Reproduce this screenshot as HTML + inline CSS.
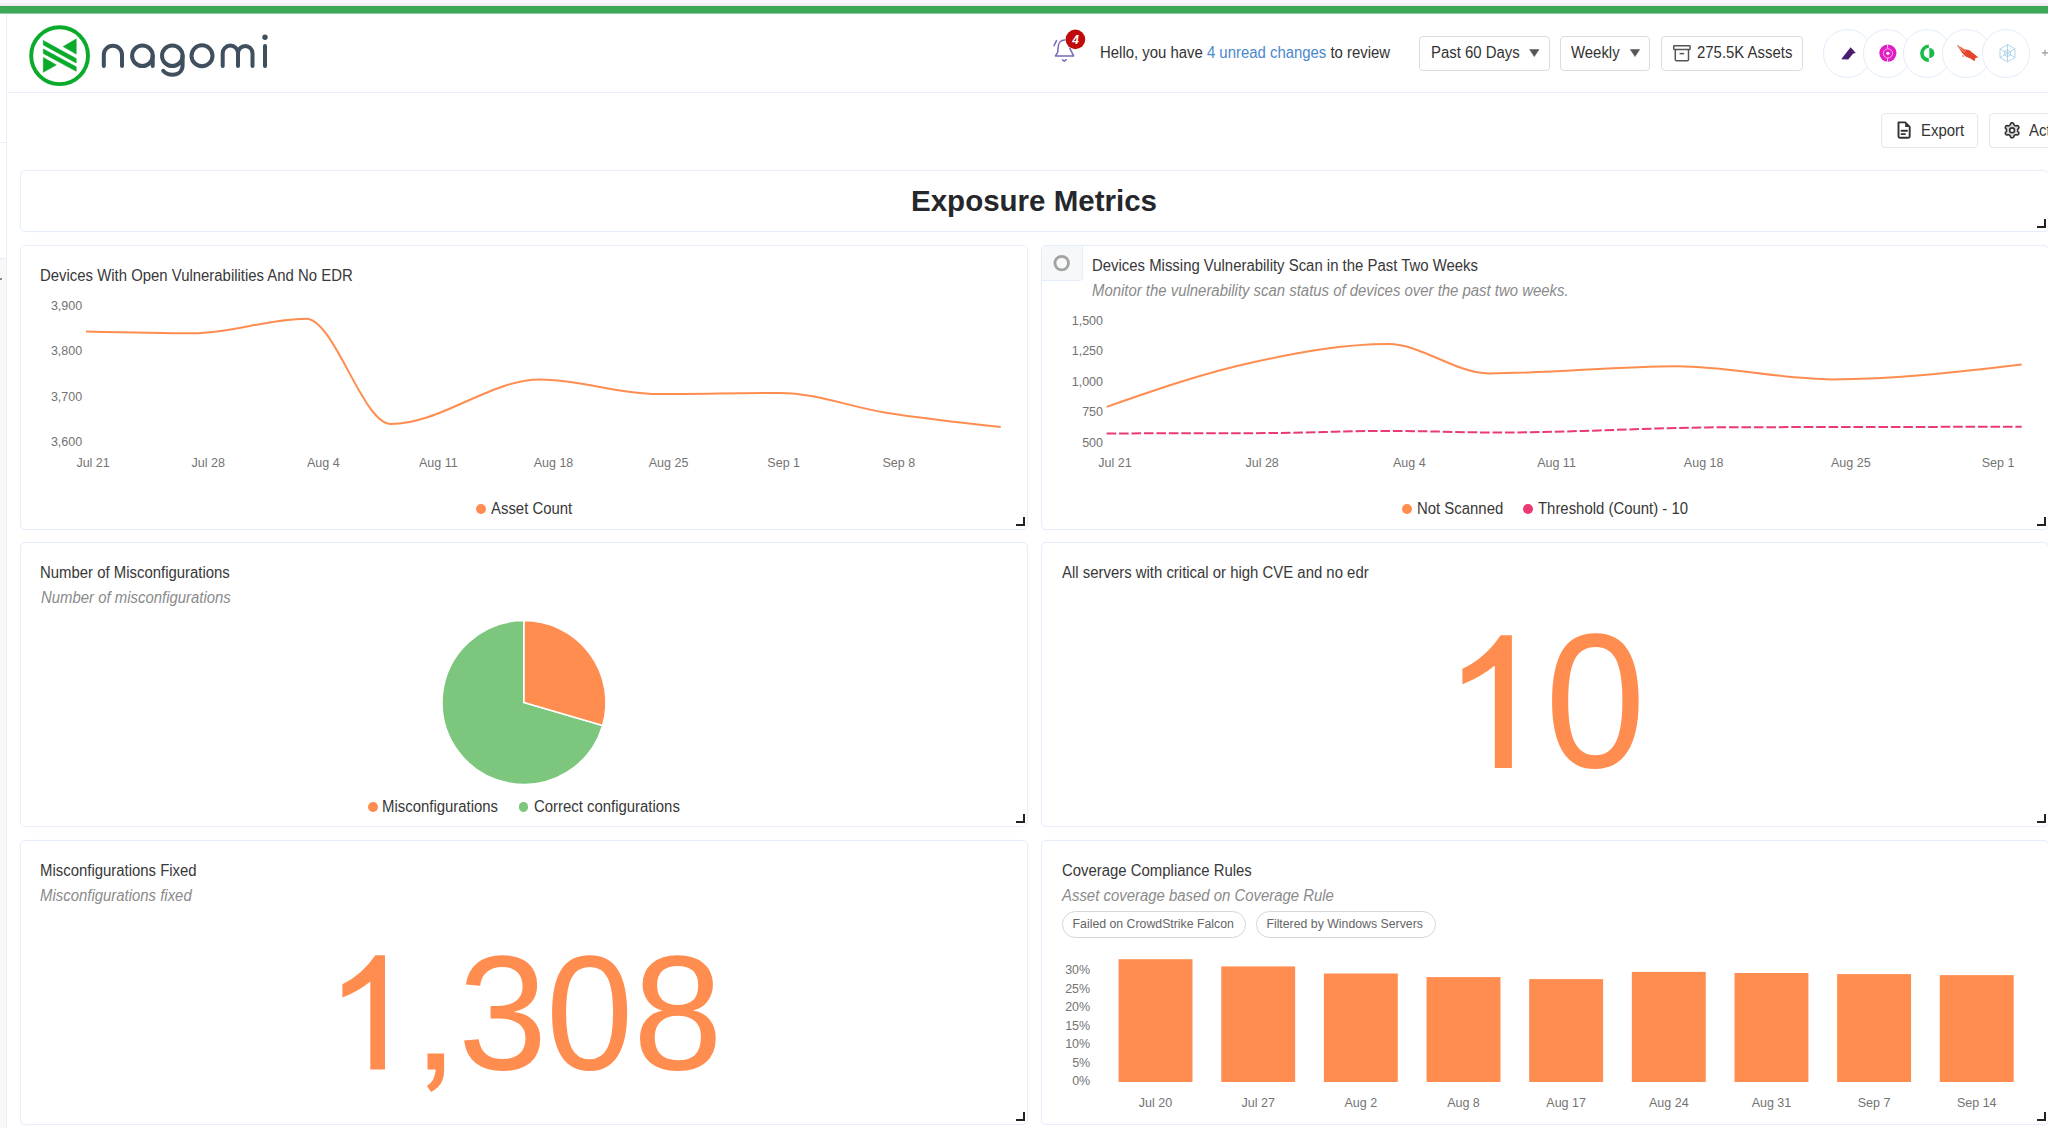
<!DOCTYPE html>
<html><head><meta charset="utf-8"><title>Exposure Metrics</title>
<style>
*{box-sizing:border-box;margin:0;padding:0}
html,body{width:2048px;height:1128px;overflow:hidden;background:#fff;font-family:"Liberation Sans",sans-serif}
.t{position:absolute;white-space:nowrap;line-height:1;font-family:"Liberation Sans",sans-serif}
.abs{position:absolute}
.card{position:absolute;background:#fff;border:1px solid #e6eefc;border-radius:5px;box-shadow:0 0 2px rgba(0,0,0,0.03)}
.btn{position:absolute;border:1px solid #dcdcdc;border-radius:4px;background:#fff}
.rh{position:absolute;width:9px;height:9px;border-right:2px solid #222;border-bottom:2px solid #222}
.dot{position:absolute;width:9.8px;height:9.8px;border-radius:50%;margin:0.4px}
</style></head><body>

<div class="abs" style="left:0;top:0;width:2048px;height:3px;background:#fdf6fd"></div>
<div class="abs" style="left:0;top:3px;width:2048px;height:3px;background:#f4eaf3"></div>
<div class="abs" style="left:0;top:6px;width:2048px;height:1px;background:#37a350"></div>
<div class="abs" style="left:0;top:7px;width:2048px;height:6px;background:#3ea85a"></div>
<div class="abs" style="left:0;top:13px;width:2048px;height:1px;background:#8fcb9e"></div>
<div class="abs" style="left:6px;top:14px;width:1px;height:1114px;background:#e8effb"></div>
<div class="abs" style="left:7px;top:92px;width:2041px;height:1px;background:#e8effb"></div>
<div class="abs" style="left:0;top:142px;width:6px;height:1px;background:#e8effb"></div>
<div class="abs" style="left:0;top:258px;width:6px;height:1px;background:#e8effb"></div>
<div class="abs" style="left:0;top:259px;width:6px;height:869px;background:#f8f8f8"></div>
<div class="abs" style="left:0;top:278px;width:1.5px;height:2px;background:#888"></div>
<svg class="abs" style="left:0;top:0" width="300" height="92" viewBox="0 0 300 92">
<circle cx="59.6" cy="55.7" r="28.4" fill="none" stroke="#0aab2b" stroke-width="3.9"/>
<path d="M76.2,39.0 L63.2,46.6 L76.2,54.1 Z" fill="#0aab2b" stroke="#0aab2b" stroke-width="0.6" stroke-linejoin="round"/>
<path d="M43.3,57.5 L56.3,64.9 L43.3,72.2 Z" fill="#0aab2b" stroke="#0aab2b" stroke-width="0.6" stroke-linejoin="round"/>
<path d="M43.3,40.5 L76.2,58.6 L76.2,63.0 L43.3,44.9 Z" fill="#0aab2b" stroke="#0aab2b" stroke-width="0.6" stroke-linejoin="round"/>
<path d="M43.3,49.0 L76.2,66.8 L76.2,71.2 L43.3,53.4 Z" fill="#0aab2b" stroke="#0aab2b" stroke-width="0.6" stroke-linejoin="round"/>
<g fill="none" stroke="#3f4f5d" stroke-width="4" stroke-linecap="round">
<path d="M103.8,66 V54.8 A9.1,9.1 0 0 1 122,54.8 V66"/>
<circle cx="142.4" cy="55.75" r="10.3"/><path d="M152.7,55.75 V66"/>
<circle cx="172.3" cy="55.75" r="10.3"/><path d="M182.6,55.75 V65 C182.6,71.5 178,74.8 172.5,74.8 C168.5,74.8 165.2,73.2 163.2,70.8"/>
<circle cx="202" cy="55.75" r="10.5"/>
<path d="M222.7,66 V53.2 A7.65,7.65 0 0 1 238,53.2 V66 M238,53.2 A7.25,7.25 0 0 1 252.5,53.2 V66"/>
<path d="M265,46 V66"/>
</g>
<circle cx="265" cy="37.3" r="2.7" fill="#3f4f5d"/>
</svg>
<svg class="abs" style="left:1045px;top:25px" width="50" height="45" viewBox="1045 25 50 45">
<g fill="none" stroke="#7668b8" stroke-width="1.5" stroke-linecap="round" stroke-linejoin="round">
<path d="M1064.8,40 C1060.5,40 1058.3,43.5 1058.2,47 L1057.6,52.6 L1055.4,55.9 L1073.6,55.9 L1069.8,48.4"/>
<path d="M1062.5,59.7 L1064.2,61.2 L1066.2,59.7"/>
<path d="M1056.5,40.6 L1054,45.8"/>
</g>
<circle cx="1075.4" cy="39.4" r="9.8" fill="#c10a0a"/>
<text x="1075.6" y="43.6" text-anchor="middle" font-family="Liberation Sans" font-weight="700" font-style="italic" font-size="12" fill="#fff">4</text>
</svg>
<div class="t" style="left:1100.20px;top:45.00px;font-size:16px;color:#333;transform:scaleX(0.932);transform-origin:0 0;">Hello, you have <span style="color:#4a88cc">4 unread changes</span> to review</div>

<div class="btn" style="left:1419px;top:36px;width:131px;height:35px"></div>
<div class="btn" style="left:1560px;top:36px;width:90px;height:35px"></div>
<div class="btn" style="left:1661px;top:36px;width:142px;height:35px"></div>
<div class="t" style="left:1431.00px;top:45.00px;font-size:16px;color:#333;transform:scaleX(0.932);transform-origin:0 0;">Past 60 Days</div>

<div class="t" style="left:1571.40px;top:45.00px;font-size:16px;color:#333;transform:scaleX(0.932);transform-origin:0 0;">Weekly</div>

<div class="t" style="left:1697.00px;top:45.00px;font-size:16px;color:#333;transform:scaleX(0.932);transform-origin:0 0;">275.5K Assets</div>

<svg class="abs" style="left:1520px;top:40px" width="180" height="30" viewBox="1520 40 180 30">
<path d="M1529.6,49.5 L1539,49.5 L1534.3,56.6 Z" fill="#555" stroke="#555" stroke-width="0.5" stroke-linejoin="round"/>
<path d="M1630.3,49.5 L1639.7,49.5 L1635,56.6 Z" fill="#555" stroke="#555" stroke-width="0.5" stroke-linejoin="round"/>
<g fill="none" stroke="#555" stroke-width="1.5" stroke-linejoin="round">
<rect x="1673.7" y="45.8" width="16.4" height="3.6" rx="0.6"/>
<path d="M1675.3,49.4 V59.4 Q1675.3,60.7 1676.6,60.7 H1687.2 Q1688.5,60.7 1688.5,59.4 V49.4"/>
<path d="M1679.6,53.6 H1684.2"/>
</g></svg>
<div class="abs" style="left:1823.3px;top:29.2px;width:48.4px;height:48.4px;border-radius:50%;border:1.3px solid #e2ecfb;background:#fff"></div>
<div class="abs" style="left:1863.0px;top:29.2px;width:48.4px;height:48.4px;border-radius:50%;border:1.3px solid #e2ecfb;background:#fff"></div>
<div class="abs" style="left:1902.7px;top:29.2px;width:48.4px;height:48.4px;border-radius:50%;border:1.3px solid #e2ecfb;background:#fff"></div>
<div class="abs" style="left:1942.4px;top:29.2px;width:48.4px;height:48.4px;border-radius:50%;border:1.3px solid #e2ecfb;background:#fff"></div>
<div class="abs" style="left:1982.1px;top:29.2px;width:48.4px;height:48.4px;border-radius:50%;border:1.3px solid #e2ecfb;background:#fff"></div>
<svg class="abs" style="left:1820px;top:28px" width="228" height="52" viewBox="1820 28 228 52">
<path d="M1841.2,59.2 L1850.6,47.2 L1855.8,52.9 L1853.2,53.4 L1848.2,59.4 Z" fill="#4a1c6f"/>
<circle cx="1887.9" cy="53.1" r="8.6" fill="#e11ec2"/>
<circle cx="1887.9" cy="53.4" r="4.6" fill="none" stroke="#f7b9ec" stroke-width="0.9"/>
<circle cx="1887.9" cy="53.3" r="1.6" fill="#fff"/>
<path d="M1887.6,44.5 V48 M1887.6,58.5 V62" stroke="#fff" stroke-width="0.8"/>
<path d="M1928.8,44.6 A8.7,8.7 0 0 0 1928.8,62 L1928.8,58.3 A5.1,5.1 0 0 1 1928.8,48.1 Z" fill="#17bb46"/>
<path d="M1929.3,48.1 A5.1,5.1 0 0 1 1929.3,58.3 Z" fill="#17bb46"/>
<path d="M1956.8,44.8 L1964,49 L1969.5,50.3 L1973.5,53.5 L1978.5,57.6 L1975.6,57.8 L1974.5,61.3 L1970.5,58.5 L1966,56.8 L1962.5,53.5 Z" fill="#e5452e"/>
<path d="M1957,45 L1966,50.5 M1959,47.5 L1965,52.5" stroke="#f7a08a" stroke-width="1"/>
<circle cx="1963" cy="56" r="0.9" fill="#f08a70"/>
<g fill="none" stroke="#9dcbe6" stroke-width="0.8">
<path d="M2007.5,44.6 L2015,48.9 L2015,57.5 L2007.5,61.8 L2000,57.5 L2000,48.9 Z"/>
<path d="M2007.5,44.6 V61.8 M2000,48.9 L2015,57.5 M2015,48.9 L2000,57.5"/>
<circle cx="2007.5" cy="53.2" r="3.2"/>
</g>
<path d="M2042,52.8 H2048 M2045,49.8 V55.8" stroke="#999" stroke-width="1.2"/>
</svg>
<div class="btn" style="left:1881px;top:113px;width:97px;height:35px;border-color:#e8e8e8"></div>
<div class="btn" style="left:1989px;top:113px;width:80px;height:35px;border-color:#e8e8e8"></div>
<div class="t" style="left:1921.40px;top:123.00px;font-size:16px;color:#333;transform:scaleX(0.932);transform-origin:0 0;">Export</div>

<div class="t" style="left:2029.30px;top:123.00px;font-size:16px;color:#333;transform:scaleX(0.932);transform-origin:0 0;">Actions</div>

<svg class="abs" style="left:1890px;top:115px" width="140" height="30" viewBox="1890 115 140 30">
<g fill="none" stroke="#333" stroke-width="1.9" stroke-linejoin="round" stroke-linecap="round">
<path d="M1898.5,122.4 H1905.2 L1909.7,126.9 V136.6 Q1909.7,137.8 1908.5,137.8 H1899.7 Q1898.5,137.8 1898.5,136.6 Z"/>
<path d="M1901.5,130.8 H1907 M1901.5,134.1 H1905"/>
</g>
<path d="M1905.2,122.4 L1909.7,126.9 L1905.2,126.9 Z" fill="#333"/>
<path d="M2017.60,130.30 L2017.61,130.49 L2017.64,130.69 L2017.69,130.89 L2017.76,131.10 L2017.85,131.31 L2017.97,131.55 L2018.16,131.81 L2018.60,132.16 L2018.75,132.46 L2018.83,132.75 L2018.86,133.03 L2018.84,133.30 L2018.79,133.56 L2018.71,133.81 L2018.60,134.05 L2018.45,134.27 L2018.27,134.46 L2018.07,134.64 L2017.84,134.79 L2017.58,134.90 L2017.30,134.98 L2016.96,134.99 L2016.44,134.79 L2016.12,134.76 L2015.85,134.77 L2015.62,134.80 L2015.40,134.85 L2015.21,134.90 L2015.02,134.98 L2014.85,135.06 L2014.69,135.17 L2014.53,135.29 L2014.39,135.43 L2014.24,135.60 L2014.10,135.79 L2013.96,136.01 L2013.82,136.30 L2013.73,136.86 L2013.55,137.14 L2013.34,137.35 L2013.11,137.51 L2012.87,137.64 L2012.62,137.73 L2012.36,137.78 L2012.10,137.80 L2011.84,137.78 L2011.58,137.73 L2011.33,137.64 L2011.09,137.51 L2010.86,137.35 L2010.65,137.14 L2010.47,136.86 L2010.38,136.30 L2010.24,136.01 L2010.10,135.79 L2009.96,135.60 L2009.81,135.43 L2009.67,135.29 L2009.51,135.17 L2009.35,135.06 L2009.18,134.98 L2008.99,134.90 L2008.80,134.85 L2008.58,134.80 L2008.35,134.77 L2008.08,134.76 L2007.76,134.79 L2007.24,134.99 L2006.90,134.98 L2006.62,134.90 L2006.36,134.79 L2006.13,134.64 L2005.93,134.46 L2005.75,134.27 L2005.60,134.05 L2005.49,133.81 L2005.41,133.56 L2005.36,133.30 L2005.34,133.03 L2005.37,132.75 L2005.45,132.46 L2005.60,132.16 L2006.04,131.81 L2006.23,131.55 L2006.35,131.31 L2006.44,131.10 L2006.51,130.89 L2006.56,130.69 L2006.59,130.49 L2006.60,130.30 L2006.59,130.11 L2006.56,129.91 L2006.51,129.71 L2006.44,129.50 L2006.35,129.29 L2006.23,129.05 L2006.04,128.79 L2005.60,128.44 L2005.45,128.14 L2005.37,127.85 L2005.34,127.57 L2005.36,127.30 L2005.41,127.04 L2005.49,126.79 L2005.60,126.55 L2005.75,126.33 L2005.93,126.14 L2006.13,125.96 L2006.36,125.81 L2006.62,125.70 L2006.90,125.62 L2007.24,125.61 L2007.76,125.81 L2008.08,125.84 L2008.35,125.83 L2008.58,125.80 L2008.80,125.75 L2008.99,125.70 L2009.18,125.62 L2009.35,125.54 L2009.51,125.43 L2009.67,125.31 L2009.81,125.17 L2009.96,125.00 L2010.10,124.81 L2010.24,124.59 L2010.38,124.30 L2010.47,123.74 L2010.65,123.46 L2010.86,123.25 L2011.09,123.09 L2011.33,122.96 L2011.58,122.87 L2011.84,122.82 L2012.10,122.80 L2012.36,122.82 L2012.62,122.87 L2012.87,122.96 L2013.11,123.09 L2013.34,123.25 L2013.55,123.46 L2013.73,123.74 L2013.82,124.30 L2013.96,124.59 L2014.10,124.81 L2014.24,125.00 L2014.39,125.17 L2014.53,125.31 L2014.69,125.43 L2014.85,125.54 L2015.02,125.62 L2015.21,125.70 L2015.40,125.75 L2015.62,125.80 L2015.85,125.83 L2016.12,125.84 L2016.44,125.81 L2016.96,125.61 L2017.30,125.62 L2017.58,125.70 L2017.84,125.81 L2018.07,125.96 L2018.27,126.14 L2018.45,126.33 L2018.60,126.55 L2018.71,126.79 L2018.79,127.04 L2018.84,127.30 L2018.86,127.57 L2018.83,127.85 L2018.75,128.14 L2018.60,128.44 L2018.16,128.79 L2017.97,129.05 L2017.85,129.29 L2017.76,129.50 L2017.69,129.71 L2017.64,129.91 L2017.61,130.11 Z" fill="#d6d6d6" stroke="#333" stroke-width="1.6" stroke-linejoin="round"/>
<circle cx="2012.1" cy="130.3" r="2.4" fill="#fff" stroke="#333" stroke-width="1.6"/>
</svg>
<div class="card" style="left:20px;top:170px;width:2029px;height:62px"></div>

<div class="t" style="left:0;width:2068px;text-align:center;top:186.13px;font-size:29.5px;font-weight:700;color:#25272b">Exposure Metrics</div>
<div class="rh" style="left:2036.8px;top:219.0px"></div>

<div class="card" style="left:20px;top:245px;width:1008px;height:285px"></div>

<div class="card" style="left:1041px;top:245px;width:1008px;height:285px"></div>

<div class="rh" style="left:1015.8px;top:517.2px"></div>

<div class="rh" style="left:2036.6px;top:517.2px"></div>

<div class="card" style="left:20px;top:542px;width:1008px;height:285px"></div>

<div class="card" style="left:1041px;top:542px;width:1008px;height:285px"></div>

<div class="rh" style="left:1015.8px;top:814.2px"></div>

<div class="rh" style="left:2036.6px;top:814.2px"></div>

<div class="card" style="left:20px;top:840px;width:1008px;height:285px"></div>

<div class="card" style="left:1041px;top:840px;width:1008px;height:285px"></div>

<div class="rh" style="left:1015.8px;top:1112.2px"></div>

<div class="rh" style="left:2036.6px;top:1112.2px"></div>

<div class="t" style="left:40.20px;top:268.00px;font-size:16px;color:#383838;transform:scaleX(0.932);transform-origin:0 0;">Devices With Open Vulnerabilities And No EDR</div>

<div class="t" style="right:1965.80px;top:299.92px;font-size:12.5px;color:#737373;">3,900</div>

<div class="t" style="right:1965.80px;top:345.32px;font-size:12.5px;color:#737373;">3,800</div>

<div class="t" style="right:1965.80px;top:390.72px;font-size:12.5px;color:#737373;">3,700</div>

<div class="t" style="right:1965.80px;top:436.12px;font-size:12.5px;color:#737373;">3,600</div>

<div class="t" style="left:-6.90px;width:200px;text-align:center;top:456.92px;font-size:12.5px;color:#737373;">Jul 21</div>

<div class="t" style="left:108.20px;width:200px;text-align:center;top:456.92px;font-size:12.5px;color:#737373;">Jul 28</div>

<div class="t" style="left:223.30px;width:200px;text-align:center;top:456.92px;font-size:12.5px;color:#737373;">Aug 4</div>

<div class="t" style="left:338.40px;width:200px;text-align:center;top:456.92px;font-size:12.5px;color:#737373;">Aug 11</div>

<div class="t" style="left:453.50px;width:200px;text-align:center;top:456.92px;font-size:12.5px;color:#737373;">Aug 18</div>

<div class="t" style="left:568.60px;width:200px;text-align:center;top:456.92px;font-size:12.5px;color:#737373;">Aug 25</div>

<div class="t" style="left:683.70px;width:200px;text-align:center;top:456.92px;font-size:12.5px;color:#737373;">Sep 1</div>

<div class="t" style="left:798.80px;width:200px;text-align:center;top:456.92px;font-size:12.5px;color:#737373;">Sep 8</div>

<svg class="abs" style="left:0;top:0" width="1030" height="540"><path d="M86.00,331.50 C121.83,332.40 157.67,333.30 193.50,333.30 C231.00,333.30 268.50,318.70 306.00,318.70 C334.33,318.70 362.67,424.00 391.00,424.00 C440.67,424.00 490.33,379.50 540.00,379.50 C579.00,379.50 618.00,394.10 657.00,394.10 C698.00,394.10 739.00,392.90 780.00,392.90 C815.33,392.90 850.67,407.15 886.00,412.70 C924.23,418.70 962.47,422.85 1000.70,427.00" fill="none" stroke="#ff8d50" stroke-width="2"/></svg>
<div class="dot" style="left:475.8px;top:503.5px;background:#ff8d50"></div>
<div class="t" style="left:490.60px;top:501.00px;font-size:16px;color:#383838;transform:scaleX(0.932);transform-origin:0 0;">Asset Count</div>

<div class="abs" style="left:1042px;top:246px;width:41px;height:35px;background:#f7f8fa;border-right:1px solid #e6eefb;border-bottom:1px solid #e6eefb;border-bottom-right-radius:4px;border-top-left-radius:3px"></div>
<svg class="abs" style="left:1050px;top:252px" width="24" height="24" viewBox="1050 252 24 24"><circle cx="1061.7" cy="263.1" r="6.8" fill="none" stroke="#a3a3a3" stroke-width="2.8"/></svg>
<div class="t" style="left:1092.20px;top:258.00px;font-size:16px;color:#383838;transform:scaleX(0.932);transform-origin:0 0;">Devices Missing Vulnerability Scan in the Past Two Weeks</div>

<div class="t" style="left:1092.00px;top:283.00px;font-size:16px;color:#8a8a8a;font-style:italic;transform:scaleX(0.932);transform-origin:0 0;">Monitor the vulnerability scan status of devices over the past two weeks.</div>

<div class="t" style="right:945.00px;top:315.02px;font-size:12.5px;color:#737373;">1,500</div>

<div class="t" style="right:945.00px;top:345.42px;font-size:12.5px;color:#737373;">1,250</div>

<div class="t" style="right:945.00px;top:375.82px;font-size:12.5px;color:#737373;">1,000</div>

<div class="t" style="right:945.00px;top:406.22px;font-size:12.5px;color:#737373;">750</div>

<div class="t" style="right:945.00px;top:436.62px;font-size:12.5px;color:#737373;">500</div>

<div class="t" style="left:1015.00px;width:200px;text-align:center;top:456.92px;font-size:12.5px;color:#737373;">Jul 21</div>

<div class="t" style="left:1162.17px;width:200px;text-align:center;top:456.92px;font-size:12.5px;color:#737373;">Jul 28</div>

<div class="t" style="left:1309.34px;width:200px;text-align:center;top:456.92px;font-size:12.5px;color:#737373;">Aug 4</div>

<div class="t" style="left:1456.51px;width:200px;text-align:center;top:456.92px;font-size:12.5px;color:#737373;">Aug 11</div>

<div class="t" style="left:1603.68px;width:200px;text-align:center;top:456.92px;font-size:12.5px;color:#737373;">Aug 18</div>

<div class="t" style="left:1750.85px;width:200px;text-align:center;top:456.92px;font-size:12.5px;color:#737373;">Aug 25</div>

<div class="t" style="left:1898.02px;width:200px;text-align:center;top:456.92px;font-size:12.5px;color:#737373;">Sep 1</div>

<svg class="abs" style="left:0;top:0" width="2048" height="540"><path d="M1106.60,406.90 C1155.07,389.97 1203.53,373.04 1252.00,362.50 C1297.43,352.62 1342.87,344.10 1388.30,344.10 C1421.87,344.10 1455.43,373.40 1489.00,373.40 C1551.73,373.40 1614.47,366.20 1677.20,366.20 C1728.77,366.20 1780.33,379.40 1831.90,379.40 C1895.17,379.40 1958.43,372.00 2021.70,364.60" fill="none" stroke="#ff8d50" stroke-width="2"/><path d="M1106.60,433.40 C1159.07,433.35 1211.53,433.30 1264.00,433.10 C1305.43,432.94 1346.87,430.90 1388.30,430.90 C1425.00,430.90 1461.70,432.50 1498.40,432.50 C1573.60,432.50 1648.80,427.55 1724.00,427.30 C1823.23,426.97 1922.47,426.88 2021.70,426.80" fill="none" stroke="#ea3a72" stroke-width="2" stroke-dasharray="9.6 2.85"/></svg>
<div class="dot" style="left:1401.4px;top:503.5px;background:#ff8d50"></div>
<div class="t" style="left:1416.80px;top:501.00px;font-size:16px;color:#383838;transform:scaleX(0.932);transform-origin:0 0;">Not Scanned</div>

<div class="dot" style="left:1522.7px;top:503.5px;background:#ea3a72"></div>
<div class="t" style="left:1538.30px;top:501.00px;font-size:16px;color:#383838;transform:scaleX(0.932);transform-origin:0 0;">Threshold (Count) - 10</div>

<div class="t" style="left:40.20px;top:565.00px;font-size:16px;color:#383838;transform:scaleX(0.932);transform-origin:0 0;">Number of Misconfigurations</div>

<div class="t" style="left:40.60px;top:590.00px;font-size:16px;color:#8a8a8a;font-style:italic;transform:scaleX(0.932);transform-origin:0 0;">Number of misconfigurations</div>

<svg class="abs" style="left:0;top:540px" width="1030" height="290" viewBox="0 540 1030 290">
<path d="M524,702.5 L524,620.5 A82,82 0 1 0 602.70,725.51 Z" fill="#7dc67e" stroke="#fff" stroke-width="1.6" stroke-linejoin="round"/>
<path d="M524,702.5 L524,620.5 A82,82 0 0 1 602.70,725.51 Z" fill="#ff8d50" stroke="#fff" stroke-width="1.6" stroke-linejoin="round"/>
</svg>
<div class="dot" style="left:367.9px;top:801.4px;background:#ff8d50"></div>
<div class="t" style="left:382.30px;top:799.00px;font-size:16px;color:#383838;transform:scaleX(0.932);transform-origin:0 0;">Misconfigurations</div>

<div class="dot" style="left:518.3px;top:801.4px;background:#7dc67e"></div>
<div class="t" style="left:534.20px;top:799.00px;font-size:16px;color:#383838;transform:scaleX(0.932);transform-origin:0 0;">Correct configurations</div>

<div class="t" style="left:1061.60px;top:565.00px;font-size:16px;color:#383838;transform:scaleX(0.932);transform-origin:0 0;">All servers with critical or high CVE and no edr</div>

<svg class="abs" style="left:1450px;top:620px" width="80" height="160" viewBox="1450 620 80 160"><path d="M1511.90,635.20 L1511.90,768.02 L1494.82,768.02 L1494.82,665.53 Q1481.28,676.80 1462.40,684.35 L1462.40,668.78 Q1485.17,658.09 1500.63,635.20 Z" fill="#ff8d50"/></svg>
<div class="t" style="left:1545.36px;top:606.17px;font-size:191.27px;color:#ff8d50;transform:scaleX(0.9466);transform-origin:0 0">0</div>

<div class="t" style="left:40.00px;top:863.00px;font-size:16px;color:#383838;transform:scaleX(0.932);transform-origin:0 0;">Misconfigurations Fixed</div>

<div class="t" style="left:40.40px;top:888.00px;font-size:16px;color:#8a8a8a;font-style:italic;transform:scaleX(0.932);transform-origin:0 0;">Misconfigurations fixed</div>

<svg class="abs" style="left:330px;top:940px" width="130" height="160" viewBox="330 940 130 160"><path d="M385.00,955.30 L385.00,1069.60 L370.30,1069.60 L370.30,981.40 Q358.65,991.10 342.40,997.60 L342.40,984.20 Q362.00,975.00 375.30,955.30 Z" fill="#ff8d50"/><path d="M427.5,1053.6 H444.1 V1071 Q444,1085.5 431,1092 L426.9,1085.9 Q434.6,1082 435.8,1069.6 H427.5 Z" fill="#ff8d50"/></svg>
<div class="t" style="left:457.58px;top:931.93px;font-size:162.54px;color:#ff8d50;transform:scaleX(0.9870);transform-origin:0 0">3</div>

<div class="t" style="left:546.33px;top:931.93px;font-size:162.54px;color:#ff8d50;transform:scaleX(0.9650);transform-origin:0 0">0</div>

<div class="t" style="left:633.04px;top:931.93px;font-size:162.54px;color:#ff8d50;transform:scaleX(0.9923);transform-origin:0 0">8</div>

<div class="t" style="left:1061.50px;top:863.00px;font-size:16px;color:#383838;transform:scaleX(0.932);transform-origin:0 0;">Coverage Compliance Rules</div>

<div class="t" style="left:1061.90px;top:888.00px;font-size:16px;color:#8a8a8a;font-style:italic;transform:scaleX(0.932);transform-origin:0 0;">Asset coverage based on Coverage Rule</div>

<div class="abs" style="left:1062px;top:911px;width:183.5px;height:27px;border:1px solid #d6d6d6;border-radius:14px"></div>
<div class="abs" style="left:1255.5px;top:911px;width:180.5px;height:27px;border:1px solid #d6d6d6;border-radius:14px"></div>
<div class="t" style="left:1072.60px;top:918.49px;font-size:12.3px;color:#666;">Failed on CrowdStrike Falcon</div>

<div class="t" style="left:1266.40px;top:918.49px;font-size:12.3px;color:#666;">Filtered by Windows Servers</div>

<div class="t" style="right:957.80px;top:964.12px;font-size:12.5px;color:#737373;">30%</div>

<div class="t" style="right:957.80px;top:982.62px;font-size:12.5px;color:#737373;">25%</div>

<div class="t" style="right:957.80px;top:1001.12px;font-size:12.5px;color:#737373;">20%</div>

<div class="t" style="right:957.80px;top:1019.62px;font-size:12.5px;color:#737373;">15%</div>

<div class="t" style="right:957.80px;top:1038.12px;font-size:12.5px;color:#737373;">10%</div>

<div class="t" style="right:957.80px;top:1056.62px;font-size:12.5px;color:#737373;">5%</div>

<div class="t" style="right:957.80px;top:1075.12px;font-size:12.5px;color:#737373;">0%</div>

<div class="t" style="left:1055.55px;width:200px;text-align:center;top:1096.92px;font-size:12.5px;color:#737373;">Jul 20</div>

<div class="t" style="left:1158.20px;width:200px;text-align:center;top:1096.92px;font-size:12.5px;color:#737373;">Jul 27</div>

<div class="t" style="left:1260.85px;width:200px;text-align:center;top:1096.92px;font-size:12.5px;color:#737373;">Aug 2</div>

<div class="t" style="left:1363.50px;width:200px;text-align:center;top:1096.92px;font-size:12.5px;color:#737373;">Aug 8</div>

<div class="t" style="left:1466.15px;width:200px;text-align:center;top:1096.92px;font-size:12.5px;color:#737373;">Aug 17</div>

<div class="t" style="left:1568.80px;width:200px;text-align:center;top:1096.92px;font-size:12.5px;color:#737373;">Aug 24</div>

<div class="t" style="left:1671.45px;width:200px;text-align:center;top:1096.92px;font-size:12.5px;color:#737373;">Aug 31</div>

<div class="t" style="left:1774.10px;width:200px;text-align:center;top:1096.92px;font-size:12.5px;color:#737373;">Sep 7</div>

<div class="t" style="left:1876.75px;width:200px;text-align:center;top:1096.92px;font-size:12.5px;color:#737373;">Sep 14</div>

<svg class="abs" style="left:1100px;top:940px" width="948" height="150" viewBox="1100 940 948 150"><rect x="1118.60" y="959.2" width="73.9" height="122.80" fill="#ff8d50"/><rect x="1221.25" y="966.4" width="73.9" height="115.60" fill="#ff8d50"/><rect x="1323.90" y="973.5" width="73.9" height="108.50" fill="#ff8d50"/><rect x="1426.55" y="977.1" width="73.9" height="104.90" fill="#ff8d50"/><rect x="1529.20" y="979.1" width="73.9" height="102.90" fill="#ff8d50"/><rect x="1631.85" y="971.9" width="73.9" height="110.10" fill="#ff8d50"/><rect x="1734.50" y="973.0" width="73.9" height="109.00" fill="#ff8d50"/><rect x="1837.15" y="974.1" width="73.9" height="107.90" fill="#ff8d50"/><rect x="1939.80" y="975.1" width="73.9" height="106.90" fill="#ff8d50"/></svg>
</body></html>
